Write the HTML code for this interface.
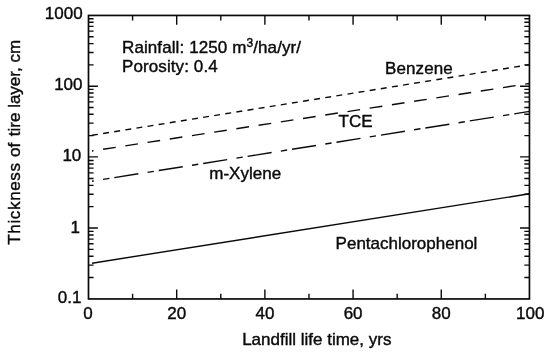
<!DOCTYPE html><html><head><meta charset="utf-8"><title>chart</title><style>html,body{margin:0;padding:0;background:#fff}svg{display:block}text{font-family:"Liberation Sans",Arial,Helvetica,sans-serif;fill:#0a0a0a;stroke:#0a0a0a;stroke-width:0.4}</style></head><body>
<svg width="550" height="354" viewBox="0 0 550 354">
<rect width="550" height="354" fill="#fff"/>
<rect x="88.5" y="15.45" width="440.95" height="283.50" stroke="#0a0a0a" stroke-width="1.7" fill="none"/>
<g stroke="#0a0a0a" stroke-width="1.4" fill="none" stroke-linecap="butt">
<path d="M132.59 298.95v-5.1M132.59 15.45v5.1M176.69 298.95v-9.4M176.69 15.45v9.4M220.79 298.95v-5.1M220.79 15.45v5.1M264.88 298.95v-9.4M264.88 15.45v9.4M308.98 298.95v-5.1M308.98 15.45v5.1M353.07 298.95v-9.4M353.07 15.45v9.4M397.17 298.95v-5.1M397.17 15.45v5.1M441.26 298.95v-9.4M441.26 15.45v9.4M485.36 298.95v-5.1M485.36 15.45v5.1M88.5 277.56h5.1M529.45 277.56h-5.1M88.5 265.11h5.1M529.45 265.11h-5.1M88.5 256.27h5.1M529.45 256.27h-5.1M88.5 249.42h5.1M529.45 249.42h-5.1M88.5 243.82h5.1M529.45 243.82h-5.1M88.5 239.08h5.1M529.45 239.08h-5.1M88.5 234.98h5.1M529.45 234.98h-5.1M88.5 231.36h5.1M529.45 231.36h-5.1M88.5 227.93h9.4M529.45 227.93h-9.4M88.5 206.63h5.1M529.45 206.63h-5.1M88.5 194.18h5.1M529.45 194.18h-5.1M88.5 185.34h5.1M529.45 185.34h-5.1M88.5 178.49h5.1M529.45 178.49h-5.1M88.5 172.89h5.1M529.45 172.89h-5.1M88.5 168.16h5.1M529.45 168.16h-5.1M88.5 164.05h5.1M529.45 164.05h-5.1M88.5 160.44h5.1M529.45 160.44h-5.1M88.5 156.90h9.4M529.45 156.90h-9.4M88.5 135.61h5.1M529.45 135.61h-5.1M88.5 123.16h5.1M529.45 123.16h-5.1M88.5 114.32h5.1M529.45 114.32h-5.1M88.5 107.47h5.1M529.45 107.47h-5.1M88.5 101.87h5.1M529.45 101.87h-5.1M88.5 97.13h5.1M529.45 97.13h-5.1M88.5 93.03h5.1M529.45 93.03h-5.1M88.5 89.41h5.1M529.45 89.41h-5.1M88.5 86.18h9.4M529.45 86.18h-9.4M88.5 64.88h5.1M529.45 64.88h-5.1M88.5 52.43h5.1M529.45 52.43h-5.1M88.5 43.59h5.1M529.45 43.59h-5.1M88.5 36.74h5.1M529.45 36.74h-5.1M88.5 31.14h5.1M529.45 31.14h-5.1M88.5 26.41h5.1M529.45 26.41h-5.1M88.5 22.30h5.1M529.45 22.30h-5.1M88.5 18.69h5.1M529.45 18.69h-5.1"/>
</g>
<line x1="92.0" y1="135.3" x2="529.45" y2="64.7" stroke="#0a0a0a" stroke-width="1.4" stroke-dasharray="5.976 5.275" stroke-dashoffset="0.008"/>
<line x1="92.0" y1="151.0" x2="529.45" y2="83.5" stroke="#0a0a0a" stroke-width="1.4" stroke-dasharray="12.749 9.730" stroke-dashoffset="11.248"/>
<line x1="92.0" y1="181.2" x2="529.45" y2="111.4" stroke="#0a0a0a" stroke-width="1.4" stroke-dasharray="6.380 4.962 24.304 9.349" stroke-dashoffset="33.754"/>
<line x1="92.0" y1="263.2" x2="529.45" y2="193.8" stroke="#0a0a0a" stroke-width="1.4"/>
<text x="82.7" y="19.0" font-size="17" text-anchor="end">1000</text>
<text x="82.5" y="89.9" font-size="17" text-anchor="end">100</text>
<text x="81.3" y="160.8" font-size="17" text-anchor="end">10</text>
<text x="80.0" y="232.6" font-size="17" text-anchor="end">1</text>
<text x="81.5" y="302.7" font-size="17" text-anchor="end">0.1</text>
<text x="87.9" y="318.9" font-size="17" text-anchor="middle">0</text>
<text x="176.7" y="318.9" font-size="17" text-anchor="middle">20</text>
<text x="264.9" y="318.9" font-size="17" text-anchor="middle">40</text>
<text x="353.1" y="318.9" font-size="17" text-anchor="middle">60</text>
<text x="441.3" y="318.9" font-size="17" text-anchor="middle">80</text>
<text x="530.2" y="318.9" font-size="17" text-anchor="middle">100</text>
<text x="316.8" y="345" font-size="17" text-anchor="middle">Landfill life time, yrs</text>
<text font-size="17" transform="translate(19.8,244.7) rotate(-90)"><tspan letter-spacing="0.65">Thickness</tspan><tspan dx="0.6"> of</tspan><tspan dx="1.9"> tire layer, cm</tspan></text>
<text x="122" y="53" font-size="17" letter-spacing="0.1">Rainfall: 1250 m<tspan font-size="12" dy="-5.8">3</tspan><tspan dy="5.8">/ha/yr/</tspan></text>
<text x="122" y="72" font-size="17" text-anchor="start" letter-spacing="0.1">Porosity: 0.4</text>
<text x="385" y="73.5" font-size="17" text-anchor="start" letter-spacing="0.1">Benzene</text>
<text x="338.5" y="127" font-size="17" text-anchor="start">TCE</text>
<text x="209.3" y="178.5" font-size="17" text-anchor="start">m-Xylene</text>
<text x="335.6" y="249" font-size="17" text-anchor="start">Pentachlorophenol</text>
</svg></body></html>
